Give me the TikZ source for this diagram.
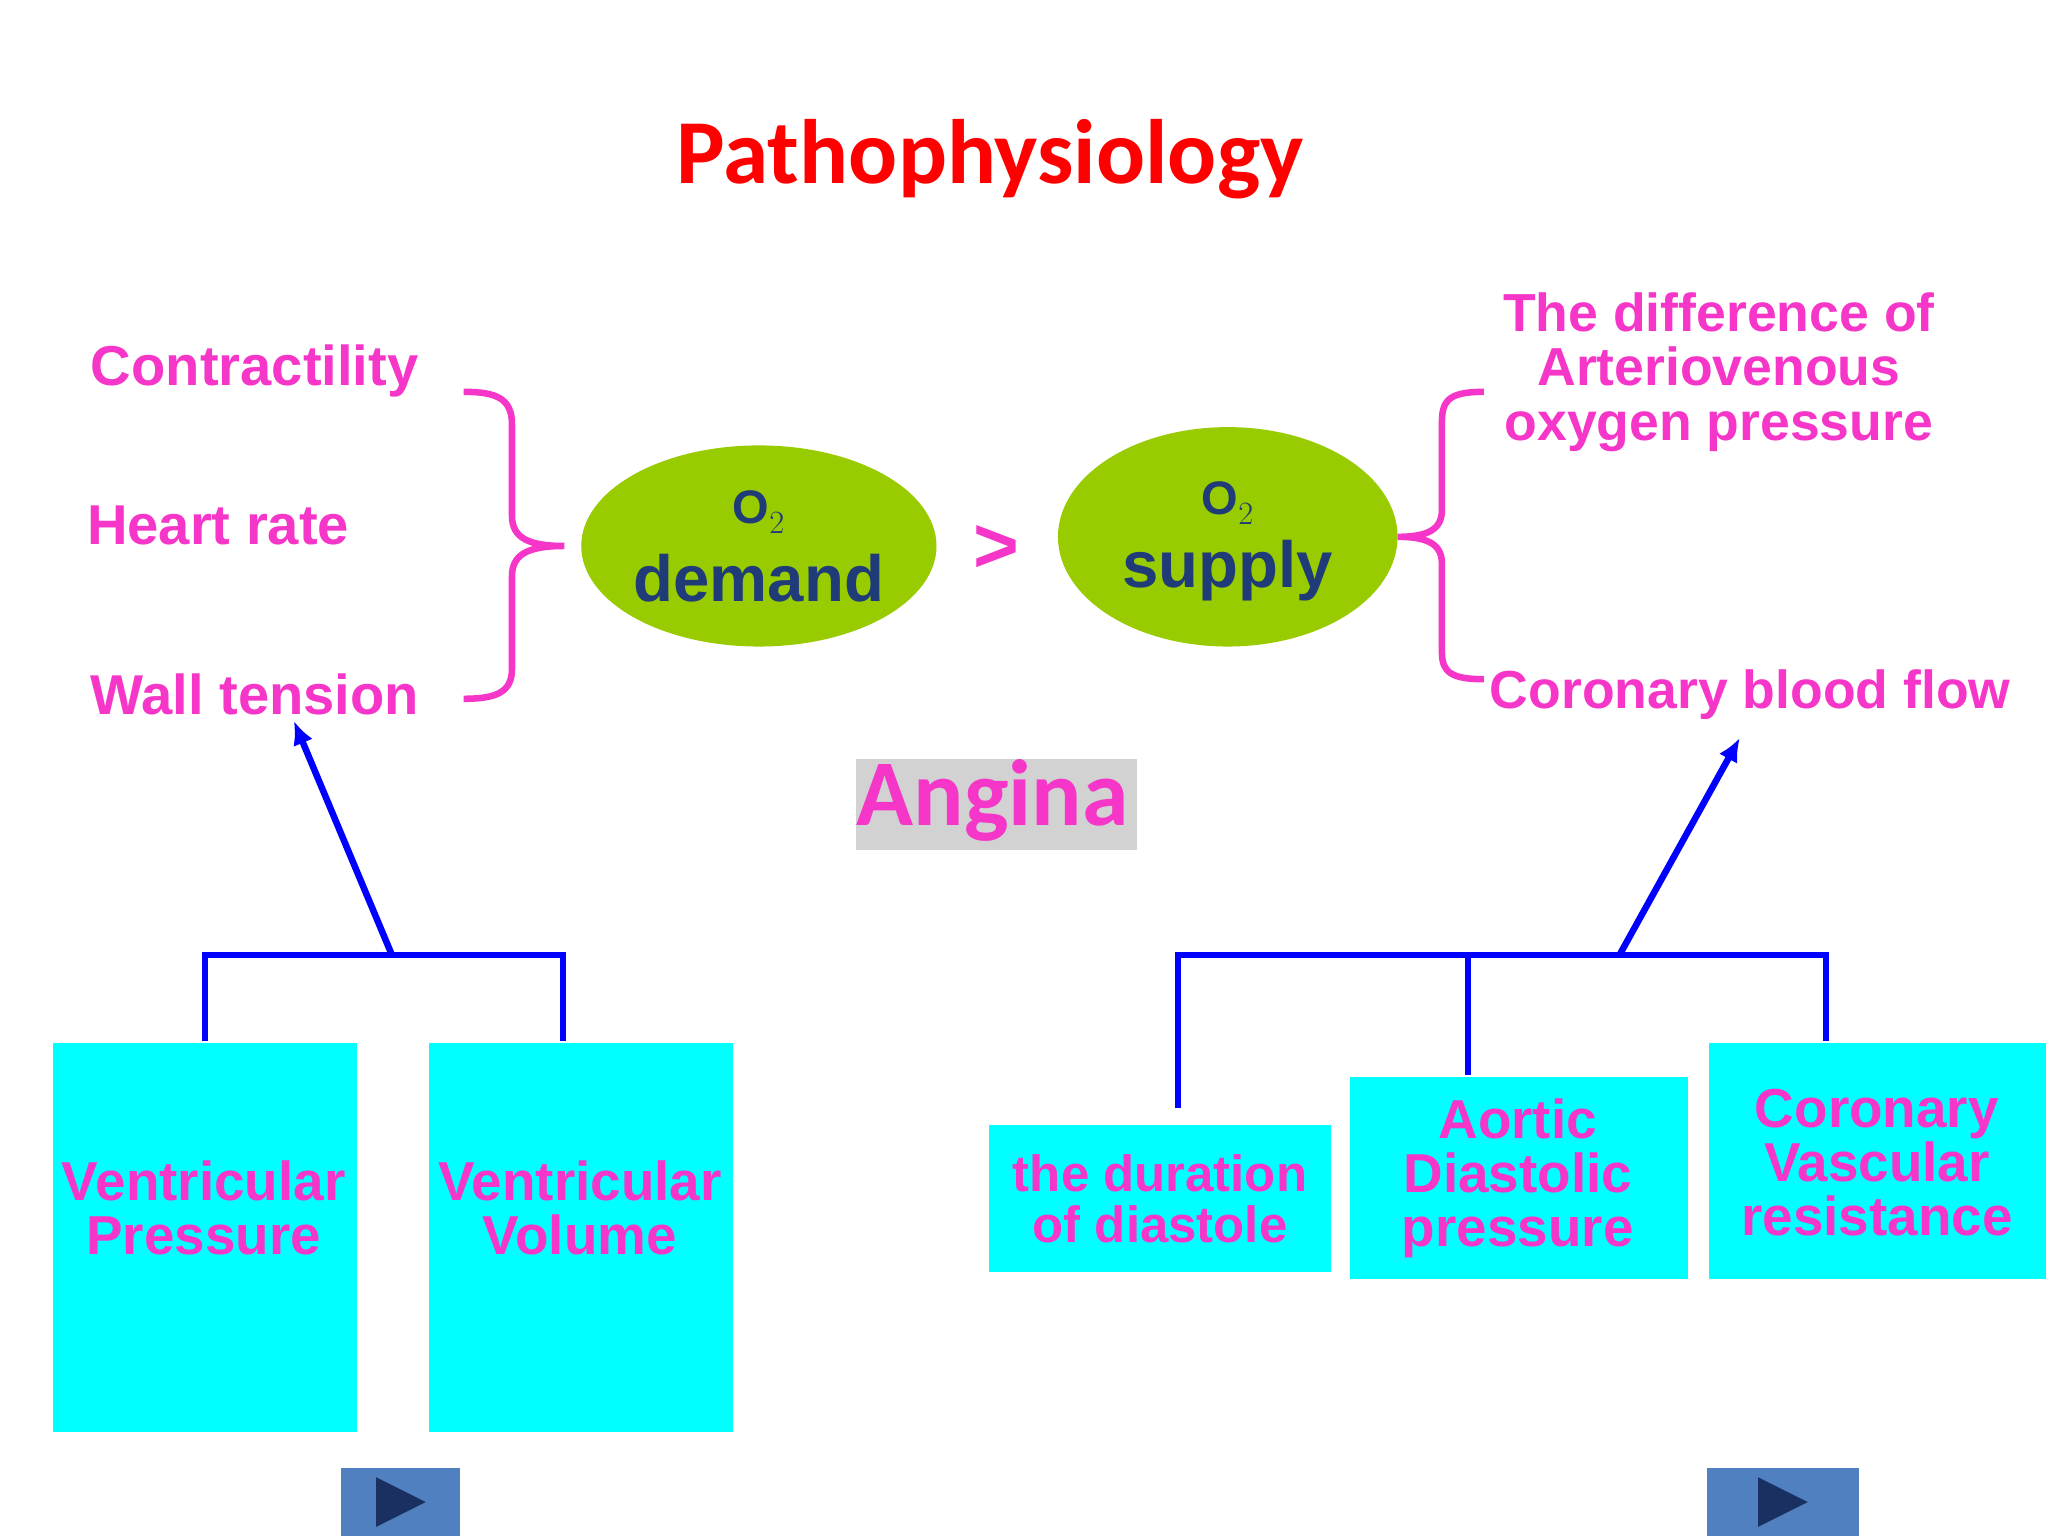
\documentclass[tikz,border=0pt]{standalone}
\usepackage{fontspec}
\setmainfont{Liberation Sans}
\newfontfamily\calib{Carlito}
\usetikzlibrary{shapes.geometric,arrows.meta,shadows}
\definecolor{mag}{HTML}{F536C8}
\definecolor{olv}{HTML}{99CC00}
\definecolor{dblue}{HTML}{1F3C78}
\definecolor{cyanb}{HTML}{00FFFF}
\definecolor{btn}{HTML}{5080C0}
\begin{document}
\begin{tikzpicture}[x=1pt,y=-1pt,
  lab/.style={text=mag,font=\bfseries\fontsize{41}{50}\selectfont,align=center,inner sep=0},
  box/.style={fill=cyanb,draw=none,text=mag,font=\bfseries\fontsize{42}{52}\selectfont,align=center},
  oval/.style={ellipse,fill=olv,draw=none},
  brace/.style={draw=mag,line width=5pt},
  bl/.style={draw=blue,line width=5pt},
  arr/.style={bl,-{Latex[length=18pt,width=16pt]}}]
\useasboundingbox (0,0) rectangle (1568,1176);
\fill[white] (0,0) rectangle (1568,1176);
\node[text=red,font=\calib\bfseries\fontsize{70}{80}\selectfont] (title) at (758,122) {Pathophysiology};
\node[lab,font=\bfseries\fontsize{43}{50}\selectfont] (contr) at (195,284) {Contractility};
\node[lab,font=\bfseries\fontsize{43}{50}\selectfont] (hr) at (167,402) {Heart rate};
\node[lab,font=\bfseries\fontsize{43}{50}\selectfont] (wall) at (195,532) {Wall tension};
\draw[brace] (355,300) .. controls (380,300) and (392,305) .. (392,325) -- (392,395) .. controls (392,412) and (405,418) .. (432,418) .. controls (405,418) and (392,424) .. (392,441) -- (392,512) .. controls (392,530) and (380,535) .. (355,535);
\node[oval,minimum width=272pt,minimum height=154pt] (dem) at (581,418) {};
\node[text=dblue,font=\bfseries\fontsize{36}{40}\selectfont] at (581,392) {O$_2$};
\node[text=dblue,font=\bfseries\fontsize{50}{56}\selectfont] at (581,443) {demand};
\node[text=mag,font=\bfseries\fontsize{60}{60}\selectfont] (gt) at (763,420) {>};
\node[oval,minimum width=260pt,minimum height=168pt] (sup) at (940,411) {};
\node[text=dblue,font=\bfseries\fontsize{36}{40}\selectfont] at (940,385) {O$_2$};
\node[text=dblue,font=\bfseries\fontsize{50}{56}\selectfont] at (940,437) {supply};
\draw[brace] (1136,300) .. controls (1112,300) and (1104,305) .. (1104,322) -- (1104,390) .. controls (1104,405) and (1094,411) .. (1070,411) .. controls (1094,411) and (1104,417) .. (1104,432) -- (1104,500) .. controls (1104,515) and (1112,520) .. (1136,520);
\node[lab] (diff) at (1316,285) {The difference of\\[-0.2em]Arteriovenous\\[-0.2em]oxygen pressure};
\node[lab] (cbf) at (1340,532) {Coronary blood flow};
\node[text=mag,font=\calib\bfseries\fontsize{72}{80}\selectfont,drop shadow={opacity=0.35,shadow xshift=3pt,shadow yshift=-3pt}] (ang) at (760,613) {Angina};
\node[box,minimum width=233pt,minimum height=298pt,anchor=north west,inner sep=0] (vp) at (40,798) {};
\node[box,fill=none] at (156,925) {Ventricular\\[-0.25em]Pressure};
\node[box,minimum width=233pt,minimum height=298pt,anchor=north west,inner sep=0] (vv) at (328,798) {};
\node[box,fill=none] at (444,925) {Ventricular\\[-0.25em]Volume};
\node[box,minimum width=262pt,minimum height=113pt,anchor=north west,inner sep=0,font=\bfseries\fontsize{39}{47}\selectfont] (dd) at (757,861) {the duration\\[-0.2em]of diastole};
\node[box,minimum width=259pt,minimum height=155pt,anchor=north west,inner sep=0] (adp) at (1033,824) {};
\node[box,fill=none] at (1162,902) {Aortic\\[-0.25em]Diastolic\\[-0.25em]pressure};
\node[box,minimum width=258pt,minimum height=181pt,anchor=north west,inner sep=0] (cvr) at (1308,798) {};
\node[box,fill=none] at (1437,890) {Coronary\\[-0.25em]Vascular\\[-0.25em]resistance};
\coordinate (l1) at (157,797); \coordinate (l2) at (431,797);
\coordinate (lm) at (300,731);
\draw[bl] (l1) -- (157,731) -- (431,731) -- (l2);
\draw[arr] (lm) -- (225,552);
\coordinate (r1) at (902,848); \coordinate (r2) at (1124,823); \coordinate (r3) at (1398,797);
\coordinate (rm) at (1240,731);
\draw[bl] (r1) -- (902,731) -- (1398,731) -- (r3);
\draw[bl] (1124,731) -- (r2);
\draw[arr] (rm) -- (1332,565);
\node[fill=btn,minimum width=91pt,minimum height=52pt,anchor=north west,inner sep=0] (b1) at (261,1124) {};
\fill[dblue!80!black] (288,1131) -- (326,1150) -- (288,1169) -- cycle;
\node[fill=btn,minimum width=116pt,minimum height=52pt,anchor=north west,inner sep=0] (b2) at (1307,1124) {};
\fill[dblue!80!black] (1346,1131) -- (1384,1150) -- (1346,1169) -- cycle;
\end{tikzpicture}
\end{document}
